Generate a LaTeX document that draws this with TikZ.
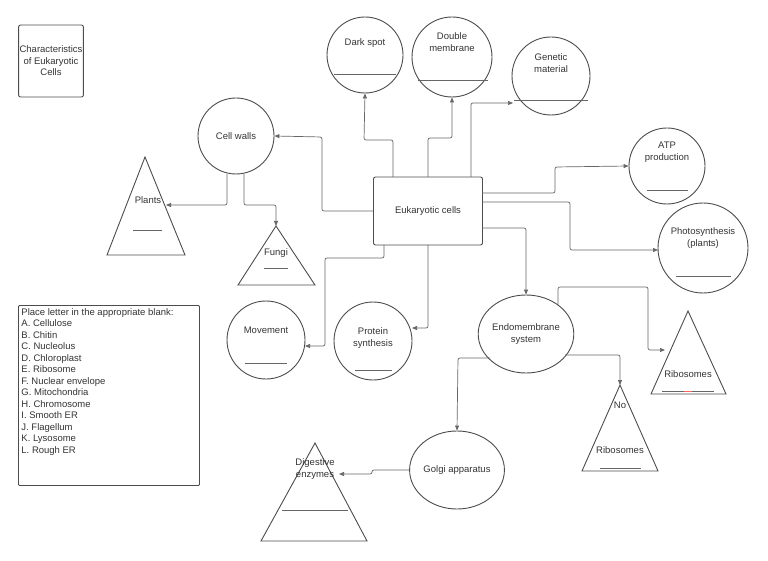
\documentclass[tikz,border=0pt]{standalone}
\usepackage{fontspec}
\setmainfont{Liberation Sans}
\usetikzlibrary{arrows.meta,shapes.geometric}
\begin{document}
\begin{tikzpicture}[x=1pt,y=-1pt,line width=0.9pt,draw=black!70,
  every node/.style={font=\fontsize{9.5}{11.5}\selectfont,text=black!80,align=center},
  circ/.style={draw=black!70,circle,minimum size=#1,inner sep=0pt},
  conn/.style={draw=black!60,line width=0.7pt,rounded corners=2pt,-{Triangle[length=5pt,width=4pt]}},
  blank/.style={draw=black!60,line width=0.6pt}]
\useasboundingbox (0,0) rectangle (768,561);
% title
\node[draw,rounded corners=2pt,minimum width=62,minimum height=72,inner sep=1pt] (title) at (51,61) {Characteristics\\of Eukaryotic\\Cells};
\node[draw,rounded corners=2pt,minimum width=109,minimum height=68] (euk) at (428,211) {Eukaryotic cells};
% circles
\node[circ=76] (dark) at (365,55) {}; \node at (365,43) {Dark spot}; \draw[blank] (334,74)--(396,74);
\node[circ=80] (dbl) at (452,57) {}; \node at (452,42) {Double\\membrane}; \draw[blank] (418,80)--(488,80);
\node[circ=78] (gen) at (551,76) {}; \node at (551,63) {Genetic\\material}; \draw[blank] (514,100)--(588,100);
\node[circ=76] (cw) at (236,136) {Cell walls};
\node[circ=76] (atp) at (667,166) {}; \node at (667,152) {ATP\\production}; \draw[blank] (647,190)--(688,190);
\node[circ=90] (photo) at (703,248) {}; \node at (703,238) {Photosynthesis\\(plants)}; \draw[blank] (676,276)--(731,276);
\node[draw,ellipse,minimum width=88,minimum height=78,inner sep=0pt] (endo) at (526,334) {Endomembrane\\system};
\node[circ=78] (prot) at (373,341) {}; \node at (373,338) {Protein\\synthesis}; \draw[blank] (355,370)--(392,370);
\node[circ=78] (mov) at (266,340) {}; \node at (266,330) {Movement}; \draw[blank] (245,363)--(287,363);
\node[draw,ellipse,minimum width=88,minimum height=78,inner sep=0pt] (golgi) at (457,470) {Golgi apparatus};
% triangles
\draw (145,157)--(185,255)--(107,255)--cycle; \node (plants) at (148,200) {Plants}; \draw[blank] (133,230)--(162,230);
\coordinate (plR) at (166,205);
\draw (276,226)--(315,285)--(238,285)--cycle; \node (fungi) at (276,253) {Fungi}; \draw[blank] (264,268)--(288,268);
\coordinate (fuT) at (276,226);
\draw (688,311)--(726,394)--(651,394)--cycle; \node (ribo) at (688,374) {Ribosomes}; \draw[blank] (662,391)--(714,391);
\draw[red!60,line width=0.6pt] (684,391)--(692,391);
\coordinate (riL) at (665,350);
\draw (620,385)--(658,471)--(582,471)--cycle; \node at (620,405) {No}; \node at (620,450) {Ribosomes}; \draw[blank] (600,468)--(641,468);
\coordinate (noT) at (620,385);
\draw (315,443)--(367,541)--(261,541)--cycle; \node at (315,469) {Digestive\\enzymes}; \draw[blank] (282,510)--(348,510);
\coordinate (dgR) at (339,474);
% legend
\node[draw,rounded corners=1pt,minimum width=181,minimum height=180,anchor=north west] (leg) at (18,305) {};
\node[align=left,anchor=north west,inner sep=2pt] (legt) at (19,306) {Place letter in the appropriate blank:\\A. Cellulose\\B. Chitin\\C. Nucleolus\\D. Chloroplast\\E. Ribosome\\F. Nuclear envelope\\G. Mitochondria\\H. Chromosome\\I. Smooth ER\\J. Flagellum\\K. Lysosome\\L. Rough ER};
% connectors
\draw[conn] (euk.west) -- (322,211) -- (322,137) -- (cw.east);
\draw[conn] (393,177) -- (393,140) -- (364,140) -- (dark.south);
\draw[conn] (428,177) -- (428,138) -- (452,138) -- (dbl.south);
\draw[conn] (471,177) -- (471,103) -- (513,103);
\draw[conn] (482,193) -- (555,193) -- (555,167) -- (atp.west);
\draw[conn] (482,202) -- (570,202) -- (570,250) -- (658,250);
\draw[conn] (482,228) -- (526,228) -- (endo.north);
\draw[conn] (384,245) -- (384,258) -- (325,258) -- (325,346) -- (305,346);
\draw[conn] (428,245) -- (428,328) -- (412,328);
\draw[conn] (227,174) -- (227,205) -- (plR);
\draw[conn] (244,174) -- (244,205) -- (276,205) -- (fuT);
\draw[conn] (558,305) -- (558,287) -- (648,287) -- (648,350) -- (riL);
\draw[conn] (565,355) -- (620,355) -- (noT);
\draw[conn] (490,358) -- (458,358) -- (golgi.north);
\draw[conn] (golgi.west) -- (372,470) -- (372,474) -- (dgR);
\end{tikzpicture}
\end{document}
